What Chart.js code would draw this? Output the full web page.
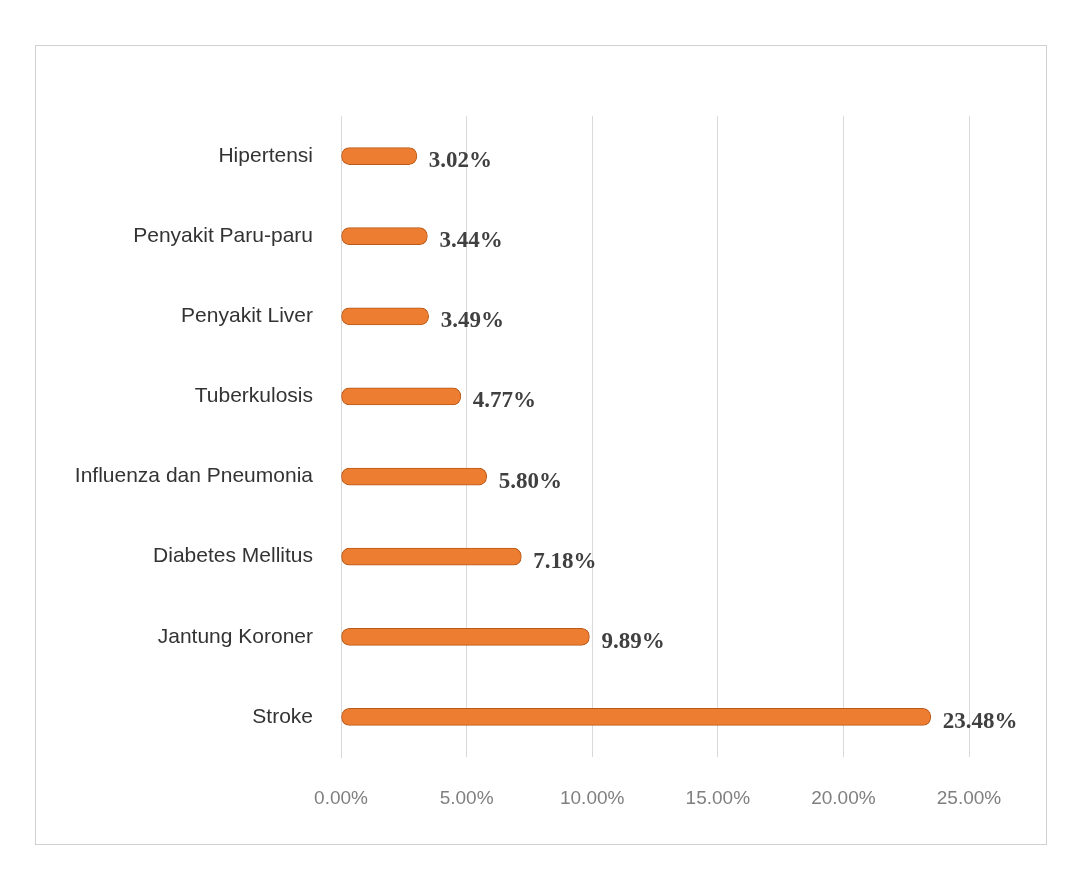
<!DOCTYPE html>
<html><head><meta charset="utf-8">
<script src="https://cdn.jsdelivr.net/npm/chart.js@4"></script>
<style>
body{margin:0;background:#fff;width:1068px;height:872px;position:relative}
#box{position:absolute;left:35px;top:45px;width:1012px;height:800px;border:1px solid #d0d0d0;box-sizing:border-box}
canvas{display:block}
</style></head><body>
<div id="box"><canvas id="c" width="1010" height="798"></canvas></div>
<script>
const categories=["Hipertensi","Penyakit Paru-paru","Penyakit Liver","Tuberkulosis","Influenza dan Pneumonia","Diabetes Mellitus","Jantung Koroner","Stroke"];
const values=[3.02,3.44,3.49,4.77,5.80,7.18,9.89,23.48];
const tickLabels=["0.00%","5.00%","10.00%","15.00%","20.00%","25.00%"];
const labelPlugin={id:'lbl',afterDatasetsDraw(chart){
 const ctx=chart.ctx;const meta=chart.getDatasetMeta(0);
 ctx.save();ctx.font='bold 23px "Liberation Serif"';ctx.fillStyle='#404040';ctx.textBaseline='middle';
 meta.data.forEach((b,i)=>{ctx.fillText(values[i].toFixed(2)+'%',b.x+12,b.y+5);});
 ctx.restore();}};
new Chart(document.getElementById('c'),{type:'bar',
 data:{labels:categories,datasets:[{data:values,
  backgroundColor(ctx){const el=ctx.element;const c=ctx.chart.ctx;
   if(!el||el.y===undefined)return '#ED7D31';
   const g=c.createLinearGradient(0,el.y-8,0,el.y+8);
   g.addColorStop(0,'#F4A25E');g.addColorStop(0.35,'#F08A3A');g.addColorStop(1,'#C9621A');return g;},
  borderColor:'#B85A18',borderWidth:1,borderRadius:8,borderSkipped:false,barThickness:17}]},
 plugins:[labelPlugin],
 options:{indexAxis:'y',responsive:false,animation:false,
  layout:{padding:{left:10,right:77,top:70,bottom:20}},
  plugins:{legend:{display:false},tooltip:{enabled:false}},
  scales:{
   x:{min:0,max:25,afterFit(s){s.height=67;},
    grid:{color:'#d9d9d9',drawTicks:false},border:{display:false},
    ticks:{stepSize:5,padding:30,color:'#7f7f7f',font:{size:19,family:'"Liberation Sans Narrow","Liberation Sans"'},
     callback:(v,i)=>tickLabels[i]}},
   y:{afterFit(s){s.width=295;},grid:{display:false},border:{color:'#d9d9d9'},
    ticks:{padding:20,color:'#333',font:{size:21,family:'"Liberation Sans Narrow","Liberation Sans"'}}}
  }}});
</script></body></html>
